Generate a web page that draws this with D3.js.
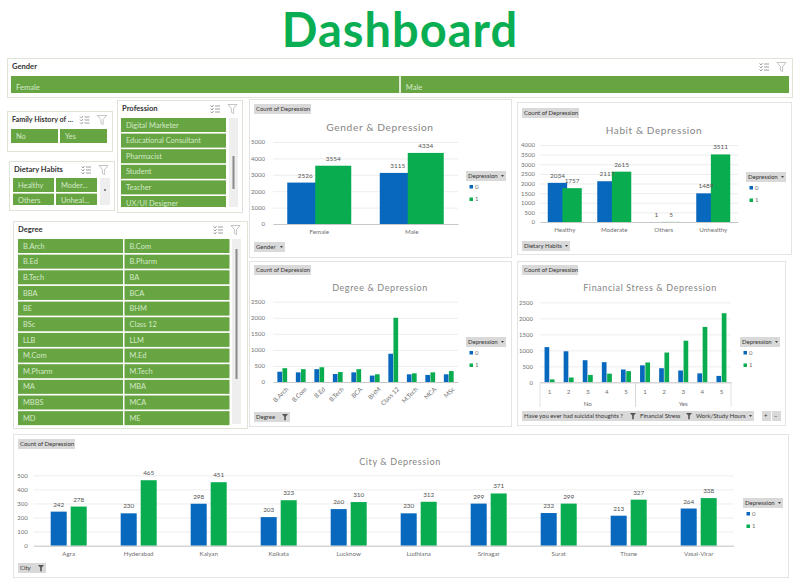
<!DOCTYPE html>
<html><head><meta charset="utf-8">
<script src="https://cdn.jsdelivr.net/npm/d3@7/dist/d3.min.js"></script>
<style>html,body{margin:0;padding:0;background:#fff}svg{display:block}text{font-family:Lato,"Open Sans",sans-serif}</style>
</head><body><svg id="c" width="800" height="580"></svg>
<script>
// ---- data ----
const seriesNames = ["0","1"];
const genderCats = ["Female","Male"];
const gender0 = [2526,3115];
const gender1 = [3554,4334];
const habitCats = ["Healthy","Moderate","Others","Unhealthy"];
const habit0 = [2034,2117,1,1489];
const habit1 = [1757,2615,5,3511];
const degreeCats = ["B.Arch","B.Com","B.Ed","B.Tech","BCA","BHM","Class 12","M.Tech","MCA","MSc"];
const degree0 = [320,300,400,250,300,200,880,240,220,240];
const degree1 = [430,400,460,310,400,240,2000,270,300,340];
const stressCats = ["No|1","No|2","No|3","No|4","No|5","Yes|1","Yes|2","Yes|3","Yes|4","Yes|5"];
const stressGroups = ["No","Yes"];
const stress0 = [1100,970,690,630,400,530,440,370,280,200];
const stress1 = [90,150,230,270,350,620,930,1300,1730,2160];
const cityCats = ["Agra","Hyderabad","Kalyan","Kolkata","Lucknow","Ludhiana","Srinagar","Surat","Thane","Vasai-Virar"];
const city0 = [242,230,298,203,260,230,299,232,213,264];
const city1 = [278,465,451,323,310,312,371,299,327,338];
const genderTicks = [0,1000,2000,3000,4000,5000];
const habitTicks = [0,500,1000,1500,2000,2500,3000,3500,4000];
const degreeTicks = [0,500,1000,1500,2000,2500];
const cityTicks = [0,100,200,300,400,500];
const professionItems = ["Digital Marketer","Educational Consultant","Pharmacist","Student","Teacher","UX/UI Designer"];
const degreeItems = ["B.Arch","B.Com","B.Ed","B.Pharm","B.Tech","BA","BBA","BCA","BE","BHM","BSc","Class 12","LLB","LLM","M.Com","M.Ed","M.Pharm","M.Tech","MA","MBA","MBBS","MCA","MD","ME"];
const dietItems = ["Healthy","Moder...","Others","Unheal..."];
const familyItems = ["No","Yes"];
const genderItems = ["Female","Male"];

// ---- style ----
const BLUE="#0868bd", GREEN="#09ad50", SL="#66a542", SLTXT="#d5e8c8", GRID="#e9e9e9", LBL="#6f6f6f";
const svg=d3.select("#c");
svg.append("rect").attr("width",800).attr("height",580).attr("fill","#fff");
svg.append("text").attr("x",400).attr("y",47).attr("text-anchor","middle").attr("letter-spacing",1)
  .attr("font-size",47).attr("font-weight",700).attr("fill","#0aae52").text("Dashboard");

function box(x,y,w,h,stroke){svg.append("rect").attr("x",x+.5).attr("y",y+.5).attr("width",w).attr("height",h).attr("fill","#fff").attr("stroke",stroke||"#dfe3d8");}

function icons(x,y){
  const g=svg.append("g").attr("transform",`translate(${x},${y})`).attr("fill","none").attr("stroke","#777").attr("stroke-width",.7);
  [0,3,6].forEach(d=>{g.append("path").attr("d",`M-3.5 ${d-3}l1.5 1.5l1.5-2`);g.append("path").attr("d",`M1 ${d-2.5}h5`);});
  g.append("path").attr("stroke","#aaa").attr("d","M14 -4h9l-3.4 4v5l-2.2-1.2v-3.8z");
}
function slicer(b,title,iconX,items,cols,btnX,btnW,btnY,btnH,stepX,stepY,maxRows,clipBottom,titleSize){
  box(b[0],b[1],b[2],b[3]);
  svg.append("text").attr("x",b[0]+5).attr("y",b[1]+11).attr("font-size",titleSize||7.6).attr("font-weight",700).attr("fill","#333").text(title);
  icons(iconX,b[1]+8.5);
  items.forEach((t,i)=>{
    const r=Math.floor(i/cols),c=i%cols; if(r>=maxRows) return;
    const x=btnX+c*stepX,y=btnY+r*stepY;
    const h=Math.min(btnH,clipBottom?clipBottom-y:btnH);
    svg.append("rect").attr("x",x).attr("y",y).attr("width",btnW).attr("height",h).attr("fill",SL);
    svg.append("text").attr("x",x+5).attr("y",y+btnH/2+2.6).attr("font-size",7.4).attr("fill",SLTXT).text(t);
  });
}
function scroll(x,y,w,h,ty,th){
  svg.append("rect").attr("x",x).attr("y",y).attr("width",w).attr("height",h).attr("fill","#eeeeee");
  if(th) svg.append("rect").attr("x",x+w/2-1).attr("y",ty).attr("width",2).attr("height",th).attr("fill","#8a8a8a");
}
function fieldBtn(x,y,w,h,t,suffix){
  svg.append("rect").attr("x",x).attr("y",y).attr("width",w).attr("height",h).attr("fill","#d9d9d9");
  svg.append("text").attr("x",x+2).attr("y",y+h/2+2.2).attr("font-size",6).attr("fill","#333").text(t);
  if(suffix==="drop") svg.append("path").attr("d",`M${x+w-5} ${y+h/2-1}h3l-1.5 2z`).attr("fill","#444");
  if(suffix==="filter") svg.append("path").attr("d",`M${x+w-8} ${y+h/2-3}h6l-2.2 2.6v3.6h-1.6v-3.6z`).attr("fill","#555");
}
function legend(x,y){
  fieldBtn(x,y,40,10,"Depression","drop");
  seriesNames.forEach((s,i)=>{
    const yy=y+15.5+i*12.5;
    svg.append("rect").attr("x",x+3.5).attr("y",yy-1.5).attr("width",3.5).attr("height",3.5).attr("fill",i?GREEN:BLUE);
    svg.append("text").attr("x",x+9).attr("y",yy+2.2).attr("font-size",6).attr("fill",LBL).text(s);
  });
}
function chart(o){
  box(o.box[0],o.box[1],o.box[2],o.box[3],"#e3e3e3");
  svg.append("text").attr("x",o.titleX).attr("y",o.titleY+3.5).attr("text-anchor","middle").attr("font-size",o.titleSize)
    .attr("letter-spacing",.6).attr("font-weight",400).attr("fill","#858585").text(o.title);
  const y=d3.scaleLinear().domain(d3.extent(o.ticks)).range([o.y0,o.y1]);
  const x=d3.scaleBand().domain(o.cats).range([o.x0,o.x1]);
  const g=svg.append("g");
  const ya=g.append("g").attr("transform",`translate(${o.x0},0)`)
    .call(d3.axisLeft(y).tickValues(o.ticks).tickFormat(d3.format("d")).tickSize(-(o.x1-o.x0)).tickPadding(o.pad||7));
  ya.select(".domain").remove();
  ya.selectAll("line").attr("stroke",GRID).attr("stroke-width",.8);
  ya.selectAll("text").attr("font-size",6).attr("fill",LBL);
  o.vals.forEach((vals,s)=>{
    g.append("g").selectAll("rect").data(vals).join("rect")
      .attr("x",(d,i)=>x(o.cats[i])+x.bandwidth()/2+(s? o.span/2-o.bw : -o.span/2))
      .attr("y",d=>y(d)).attr("width",o.bw).attr("height",d=>o.y0-y(d)).attr("fill",s?GREEN:BLUE);
  });
  if(o.labels) o.vals.forEach((vals,s)=>{
    g.append("g").selectAll("text").data(vals).join("text")
      .attr("x",(d,i)=>x(o.cats[i])+x.bandwidth()/2+(s? o.span/2-o.bw/2 : -o.span/2+o.bw/2))
      .attr("y",d=>y(d)-5).attr("text-anchor","middle").attr("font-size",6.4).attr("fill","#555").text(d=>d);
  });
  const xa=g.append("g").attr("transform",`translate(0,${o.y0})`).call(d3.axisBottom(x).tickSize(0).tickPadding(o.xpad||6)
     .tickFormat(o.xfmt||(d=>d)));
  xa.select(".domain").attr("stroke","#c8c8c8");
  xa.selectAll("text").attr("font-size",6.2).attr("fill",LBL);
  if(o.rotate) xa.selectAll("text").attr("text-anchor","end").attr("transform","rotate(-45)").attr("dx","-1").attr("dy","4");
  return {x,y};
}

// ---- slicers ----
slicer([7,58,785,39],"Gender",763,[],2,0,0,0,0,0,0,0);
genderItems.forEach((t,i)=>{
  const sx=d3.scaleBand().domain(genderItems).range([11,789]).paddingInner(.004);
  svg.append("rect").attr("x",sx(t)).attr("y",76).attr("width",sx.bandwidth()).attr("height",17).attr("fill",SL);
  svg.append("text").attr("x",sx(t)+5).attr("y",90).attr("font-size",7.6).attr("fill",SLTXT).text(t);
});
slicer([7,111,105,40],"Family History of ...",83.5,familyItems,2,11,47,129,14,49,15,1,0,7.2);
slicer([9,161,105,49],"Dietary Habits",85,dietItems,2,13,41,178,14,43,15.6,2,205);
scroll(100,178,10,27,0,0);
svg.append("circle").attr("cx",105).attr("cy",190).attr("r",1).attr("fill","#666");
slicer([117,100,125,112],"Profession",214,professionItems,1,121,105,118,14,0,15.6,6,207);
scroll(229,118,9,89,156,33);
slicer([13,221,234,207],"Degree",217,degreeItems,2,18,105,239,14,106.5,15.65,12);
scroll(232,239,9,185,249,130);

// ---- charts ----
chart({box:[249,99,262,158],title:"Gender & Depression",titleX:380,titleY:127,titleSize:10.2,cats:genderCats,vals:[gender0,gender1],ticks:genderTicks,
  x0:273,x1:458,y0:224,y1:142,bw:36,span:64,labels:true,pad:8});
fieldBtn(254,104,57,10,"Count of Depression");fieldBtn(254,242,31,10,"Gender","drop");legend(466,171);

chart({box:[517,102,274,152],title:"Habit & Depression",titleX:654,titleY:130,titleSize:10,cats:habitCats,vals:[habit0,habit1],ticks:habitTicks,
  x0:540,x1:738,y0:222,y1:145,bw:19.4,span:34,labels:true,pad:5});
fieldBtn(522,108,57,10,"Count of Depression");fieldBtn(522,241,48,10,"Dietary Habits","drop");legend(746,172);

chart({box:[249,261,262,165],title:"Degree & Depression",titleX:380,titleY:287,titleSize:9,cats:degreeCats,vals:[degree0,degree1],ticks:degreeTicks,
  x0:273,x1:458,y0:382,y1:301.7,bw:4.7,span:9.8,rotate:true,pad:8});
fieldBtn(254,412,36,10,"Degree","filter");fieldBtn(254,265,57,10,"Count of Depression");legend(466,337);

const st=chart({box:[517,261,268,164],title:"Financial Stress & Depression",titleX:650,titleY:287,titleSize:9,cats:stressCats,vals:[stress0,stress1],ticks:degreeTicks,
  x0:540,x1:731,y0:382.3,y1:302.3,bw:4.7,span:10,pad:7,xpad:7,xfmt:d=>d.split("|")[1]});
stressGroups.forEach(gr=>{
  const mem=stressCats.filter(c=>c.startsWith(gr+"|"));
  const a=st.x(mem[0]),b=st.x(mem[mem.length-1])+st.x.bandwidth();
  svg.append("text").attr("x",(a+b)/2).attr("y",405.5).attr("text-anchor","middle").attr("font-size",6.2).attr("fill",LBL).text(gr);
  [a,b].forEach(v=>svg.append("line").attr("x1",v).attr("x2",v).attr("y1",382.3).attr("y2",407).attr("stroke","#d5d5d5").attr("stroke-width",.7));
});
fieldBtn(522,265,56,10,"Count of Depression");
fieldBtn(522,411,116,10,"Have you ever had suicidal thoughts ?","filter");
fieldBtn(638,411,56,10,"Financial Stress","filter");
fieldBtn(694,411,60,10,"Work/Study Hours","drop");
fieldBtn(762,411,9,10,"+");fieldBtn(772,411,9,10,"−");
legend(740,337);

chart({box:[13,434,775,143],title:"City & Depression",titleX:400,titleY:461,titleSize:9,cats:cityCats,vals:[city0,city1],ticks:cityTicks,
  x0:33.7,x1:733.7,y0:545.7,y1:475.3,bw:16,span:36,labels:true,pad:6,xpad:6});
fieldBtn(18,439,57,10,"Count of Depression");fieldBtn(18,563,28,10,"City","filter");legend(743,498);
</script></body></html>
